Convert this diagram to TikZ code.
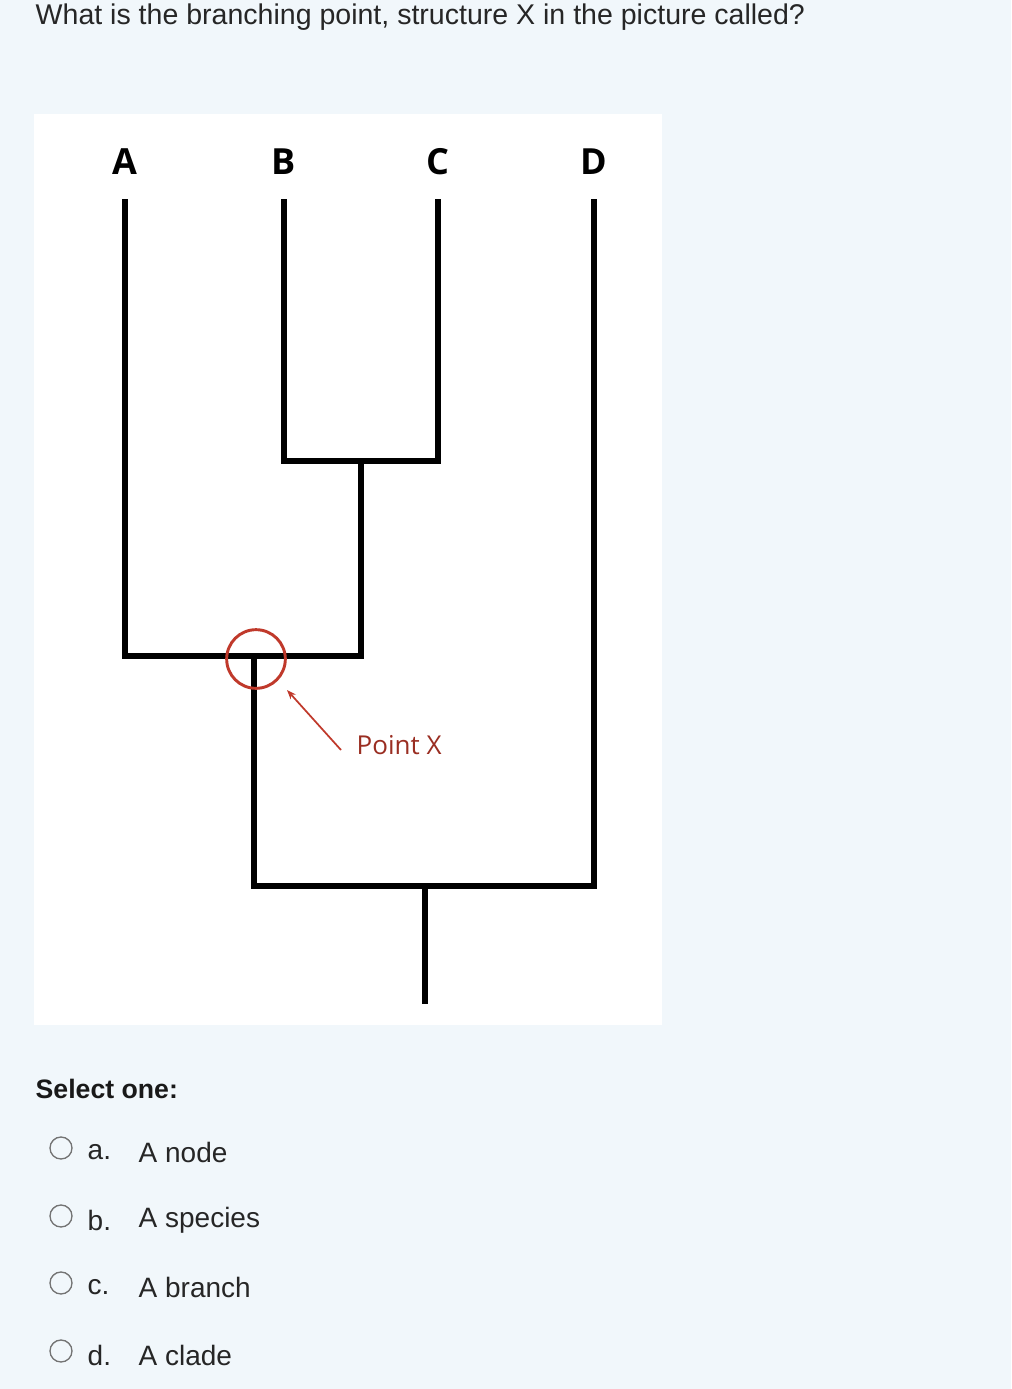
\documentclass[tikz,border=0pt]{standalone}
\usepackage{fontspec}
\usetikzlibrary{arrows.meta}
\setmainfont{Liberation Sans}
\newfontfamily\lbl{Open Sans}
\definecolor{bg}{HTML}{F1F7FB}
\definecolor{pred}{HTML}{C0392B}
\begin{document}
\begin{tikzpicture}[x=0.75pt,y=-0.75pt,
  br/.style={line width=3.8pt,line cap=rect},
  tip/.style={font=\lbl\bfseries\fontsize{27}{30}\selectfont},
  opt/.style={anchor=west,font=\fontsize{21}{24}\selectfont,text=black!85},
  radio/.style={draw=black!55,line width=1pt,circle,minimum size=16.5pt,inner sep=0pt}]
\fill[bg] (0,0) rectangle (1011,1389);
\useasboundingbox (0,0) rectangle (1011,1389);
\fill[white] (34,114) rectangle (662,1025);
\node[anchor=west,font=\fontsize{21.4}{24}\selectfont,text=black!85] (q) at (31,17) {What is the branching point, structure X in the picture called?};
\node[tip] (A) at (125,162) {A};
\node[tip] (B) at (284,162) {B};
\node[tip] (C) at (438,162) {C};
\node[tip] (D) at (594,162) {D};
\coordinate (a0) at (125,202); \coordinate (b0) at (284,202);
\coordinate (c0) at (438,202); \coordinate (d0) at (594,202);
\draw[br] (b0) -- (284,461) -- (438,461) -- (c0);
\draw[br] (361,461) -- (361,656) -- (125,656) -- (a0);
\draw[br] (254,656) -- (254,886) -- (594,886) -- (d0);
\draw[br] (425,886) -- (425,1001);
\node[draw=pred,line width=2.2pt,circle,minimum size=44pt] (x) at (256,659) {};
\node[text=pred!80!black,anchor=west,font=\lbl\fontsize{19.5}{22}\selectfont] (px) at (352,745) {Point X};
\draw[pred,line width=1.3pt,-{Stealth[length=7pt]}] (341,750) -- (287,690);
\node[anchor=west,font=\bfseries\fontsize{20}{24}\selectfont,text=black!90] (sel) at (31,1089) {Select one:};
\foreach \y/\l/\t in {1152/a./A node,1220/b./A species,1287/c./A branch,1355/d./A clade}{
  \node[radio] at (61,\y-4) {};
  \node[opt] at (83,\y) {\l};
  \node[opt] at (134,\y) {\t};
}
\end{tikzpicture}
\end{document}
